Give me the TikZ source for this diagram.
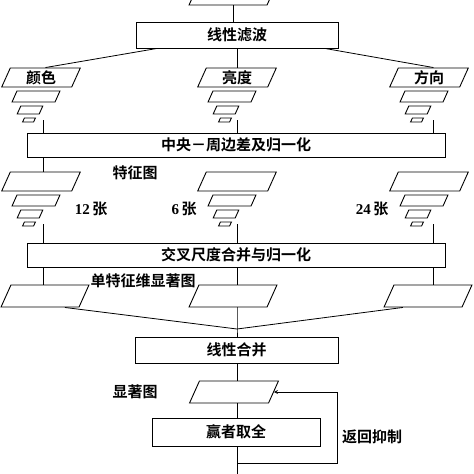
\documentclass[tikz,border=0pt]{standalone}
\usepackage{fontspec}
\setmainfont{Liberation Serif}
\newfontfamily\cjk{Noto Sans CJK SC}[BoldFont={Noto Sans CJK SC Bold}]
\usepackage{tikz}

\begin{document}
\begin{tikzpicture}[x=1pt, y=-1pt,
    box/.style={draw, line width=0.9pt, inner sep=0pt, font=\cjk\bfseries\fontsize{15}{17}\selectfont},
    pgram/.style={draw, line width=0.9pt, xslant=0.45, transform shape, inner sep=0pt, minimum width=#1},
    label/.style={font=\cjk\bfseries\fontsize{15}{17}\selectfont},
    line/.style={line width=0.8pt},
    arrow/.style={->, line width=0.8pt, >=stealth}
]
    \path[use as bounding box, clip] (0,0) rectangle (474,474);

    % Input
    \node[pgram=78, minimum height=22] (in) at (233,-6) {};

    % Linear filtering
    \node[box, minimum width=202, minimum height=26] (lf) at (237,35) {线性滤波};
    \draw[line] (in.south -| in) -- (in |- lf.north);

    % Center-surround box and cross-scale box
    \node[box, minimum width=418, minimum height=24] (csd) at (236,145) {中央－周边差及归一化};
    \node[box, minimum width=418, minimum height=24] (csn) at (236,255) {交叉尺度合并与归一化};

    % Pyramids per channel
    \foreach \n/\cx/\lx/\name in {a/41/43/颜色, b/237/237/亮度, c/429/433/方向} {
        \coordinate (x\n) at (\lx,0);
        % channel pyramid
        \node[pgram=70, minimum height=19] (f\n1) at (\cx,77.5) {};
        \node[label] at (f\n1) {\name};
        \node[pgram=43, minimum height=11] (f\n2) at (\cx-5,96.5) {};
        \node[pgram=22, minimum height=8] (f\n3) at (\cx-11,110) {};
        \node[pgram=11, minimum height=4] (f\n4) at (\cx-12,120) {};
        \draw[line] (f\n4 -| x\n) -- (csd.north -| x\n);
        % feature maps
        \node[pgram=70, minimum height=19] (g\n1) at (\cx,181.5) {};
        \node[pgram=43, minimum height=11] (g\n2) at (\cx-5,200.5) {};
        \node[pgram=22, minimum height=8] (g\n3) at (\cx-11,214) {};
        \node[pgram=11, minimum height=4] (g\n4) at (\cx-12,224) {};
        \draw[line] (g\n4 -| x\n) -- (csn.north -| x\n);
    }
    \draw[line] ([xshift=-80pt]lf.south) -- (fa1.north);
    \draw[line] (lf.south -| xb) -- (fb1.north -| xb);
    \draw[line] ([xshift=88pt]lf.south) -- (fc1.north);
    \draw[line] (csd.south -| xa) -- (ga1.north -| xa);

    \node[label] (fm) at (135,173) {特征图};
    \node[label] (na) at (91,209) {{\rmfamily\bfseries 12}\,张};
    \node[label] (nb) at (184,209) {{\rmfamily\bfseries 6}\,张};
    \node[label] (nc) at (372,209) {{\rmfamily\bfseries 24}\,张};

    % Conspicuity maps
    \node[pgram=78, minimum height=22] (sa) at (45,296) {};
    \node[pgram=78, minimum height=22] (sb) at (233,296) {};
    \node[pgram=78, minimum height=22] (sc) at (428,296) {};
    \node[label] (cm) at (143,281) {单特征维显著图};
    \draw[line] (csn.south -| xa) -- (sa.north -| xa);
    \draw[line] (csn.south -| xb) -- (sb.north -| xb);
    \draw[line] (csn.south -| xc) -- (sc.north -| xc);

    % Linear combination
    \node[box, minimum width=203, minimum height=26] (lm) at (236.5,350) {线性合并};
    \coordinate (mg) at (237,329);
    \draw[line] ([xshift=25pt]sa.south) -- (mg);
    \draw[line] ([xshift=-20pt]sc.south) -- (mg);
    \draw[line] (sb.south -| xb) -- (mg) -- (mg |- lm.north);

    % Saliency map and WTA
    \node[pgram=79, minimum height=22] (sal) at (234,392) {};
    \node[label] (sl) at (135,392) {显著图};
    \node[box, minimum width=168, minimum height=28] (wta) at (236,432) {赢者取全};
    \coordinate (out) at (237,474);
    \coordinate (fb) at (237,463);
    \coordinate (fbr) at (337,463);
    \draw[line] (lm.south -| xb) -- (sal.north -| xb);
    \draw[line] (sal.south -| xb) -- (wta.north -| xb);
    \draw[line] (wta.south -| xb) -- (out);
    \draw[arrow] (fb) -- (fbr) |- (sal.east);
    \node[label] (ior) at (372,437) {返回抑制};
\end{tikzpicture}
\end{document}
